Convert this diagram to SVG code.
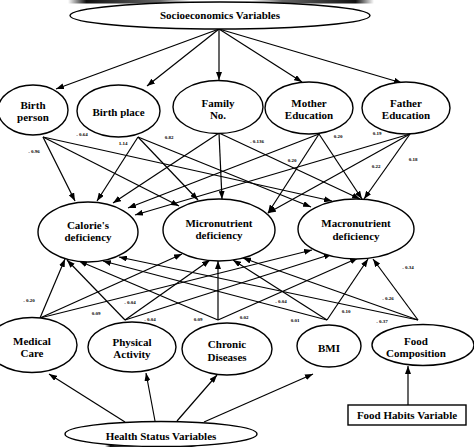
<svg xmlns="http://www.w3.org/2000/svg" width="474" height="447" viewBox="0 0 474 447">
<defs>
<marker id="ah" markerUnits="userSpaceOnUse" markerWidth="8" markerHeight="6" refX="8" refY="3" orient="auto">
<path d="M0,0 L8,3 L0,6 z" fill="#000"/>
</marker>
<linearGradient id="sh" x1="0" y1="0" x2="1" y2="0">
<stop offset="0" stop-color="#fff"/>
<stop offset="0.06" stop-color="#111"/>
<stop offset="0.3" stop-color="#666"/>
<stop offset="0.4" stop-color="#fff"/>
<stop offset="0.6" stop-color="#fff"/>
<stop offset="0.7" stop-color="#666"/>
<stop offset="0.94" stop-color="#111"/>
<stop offset="1" stop-color="#fff"/>
</linearGradient>
<style>
.n{fill:#fff;stroke:#000;stroke-width:1.4}
.t{font-family:"Liberation Serif",serif;font-weight:bold;font-size:11px;text-anchor:middle;fill:#000}
.e line{stroke:#000;stroke-width:1.2;marker-end:url(#ah)}
.l{font-family:"Liberation Serif",serif;font-weight:bold;font-size:5px;text-anchor:middle;fill:#000}
</style>
</defs>
<rect x="68" y="0" width="306" height="3.5" fill="url(#sh)"/>
<rect x="105" y="443" width="92" height="4" fill="url(#sh)"/>
<g id="connectors" class="e">
<line x1="219" y1="29" x2="56" y2="89"/>
<line x1="219" y1="29" x2="147" y2="86"/>
<line x1="219" y1="29" x2="219" y2="80"/>
<line x1="219" y1="29" x2="302" y2="82"/>
<line x1="219" y1="29" x2="402" y2="83"/>
<line x1="43" y1="137" x2="75" y2="201"/>
<line x1="43" y1="137" x2="179" y2="206"/>
<line x1="43" y1="137" x2="332" y2="201"/>
<line x1="138" y1="137" x2="97" y2="201"/>
<line x1="138" y1="137" x2="198" y2="200"/>
<line x1="138" y1="137" x2="311" y2="207"/>
<line x1="219" y1="133" x2="113" y2="203"/>
<line x1="219" y1="133" x2="222" y2="199"/>
<line x1="219" y1="133" x2="360" y2="199"/>
<line x1="319" y1="134" x2="128" y2="208"/>
<line x1="319" y1="134" x2="268" y2="213"/>
<line x1="319" y1="134" x2="362" y2="199"/>
<line x1="410" y1="134" x2="135" y2="215"/>
<line x1="410" y1="134" x2="268" y2="213"/>
<line x1="410" y1="134" x2="364" y2="199"/>
<line x1="40" y1="318" x2="65" y2="259"/>
<line x1="40" y1="318" x2="182" y2="254"/>
<line x1="40" y1="318" x2="312" y2="250"/>
<line x1="125" y1="320" x2="67" y2="260"/>
<line x1="125" y1="320" x2="210" y2="260"/>
<line x1="125" y1="320" x2="332" y2="254"/>
<line x1="218" y1="320" x2="79" y2="261"/>
<line x1="218" y1="320" x2="218" y2="261"/>
<line x1="218" y1="320" x2="358" y2="258"/>
<line x1="327" y1="320" x2="103" y2="261"/>
<line x1="327" y1="320" x2="233" y2="260"/>
<line x1="327" y1="320" x2="368" y2="259"/>
<line x1="418" y1="320" x2="119" y2="257"/>
<line x1="418" y1="320" x2="243" y2="258"/>
<line x1="418" y1="320" x2="373" y2="259"/>
<line x1="125" y1="422" x2="49" y2="374"/>
<line x1="155" y1="421" x2="146" y2="373"/>
<line x1="177" y1="421" x2="217" y2="375"/>
<line x1="204" y1="422" x2="313" y2="374"/>
<line x1="408" y1="405" x2="408" y2="366"/>
</g>
<g id="edge-labels">
<text class="l" x="34" y="153">- 0.96</text>
<text class="l" x="82" y="136">- 0.64</text>
<text class="l" x="123" y="145">1.14</text>
<text class="l" x="169" y="139">0.82</text>
<text class="l" x="257" y="143">- 0.136</text>
<text class="l" x="338" y="138">0.20</text>
<text class="l" x="292" y="162">0.20</text>
<text class="l" x="377" y="135">0.19</text>
<text class="l" x="376" y="168">0.22</text>
<text class="l" x="413" y="161">0.18</text>
<text class="l" x="29" y="302">- 0.20</text>
<text class="l" x="96" y="315">0.09</text>
<text class="l" x="130" y="304">- 0.04</text>
<text class="l" x="150" y="321">- 0.04</text>
<text class="l" x="198" y="321">0.09</text>
<text class="l" x="244" y="319">0.02</text>
<text class="l" x="281" y="303">- 0.04</text>
<text class="l" x="295" y="322">0.01</text>
<text class="l" x="346" y="313">0.10</text>
<text class="l" x="382" y="323">- 0.37</text>
<text class="l" x="388" y="300">- 0.26</text>
<text class="l" x="408" y="269">- 0.34</text>
</g>
<g id="socio"><ellipse class="n" cx="220" cy="15.5" rx="150" ry="13.5"/><text class="t" x="220" y="19">Socioeconomics Variables</text></g>
<g id="birth-person"><ellipse class="n" cx="33" cy="110" rx="35" ry="25"/><text class="t" x="33" y="108.5">Birth</text><text class="t" x="33" y="120.5">person</text></g>
<g id="birth-place"><ellipse class="n" cx="118.5" cy="111" rx="41.5" ry="26"/><text class="t" x="118.5" y="116">Birth place</text></g>
<g id="family-no"><ellipse class="n" cx="218" cy="107" rx="45" ry="26.5"/><text class="t" x="218" y="107">Family</text><text class="t" x="218" y="119">No.</text></g>
<g id="mother-education"><ellipse class="n" cx="309" cy="108" rx="44" ry="26"/><text class="t" x="309" y="107">Mother</text><text class="t" x="309" y="118.5">Education</text></g>
<g id="father-education"><ellipse class="n" cx="406" cy="108" rx="44" ry="26"/><text class="t" x="406" y="107">Father</text><text class="t" x="406" y="118.5">Education</text></g>
<g id="calorie"><ellipse class="n" cx="88" cy="232" rx="50" ry="30"/><text class="t" x="88" y="229">Calorie's</text><text class="t" x="88" y="241">deficiency</text></g>
<g id="micronutrient"><ellipse class="n" cx="219" cy="230" rx="56" ry="31"/><text class="t" x="219" y="227">Micronutrient</text><text class="t" x="219" y="239">deficiency</text></g>
<g id="macronutrient"><ellipse class="n" cx="356" cy="229" rx="58" ry="30"/><text class="t" x="356" y="227">Macronutrient</text><text class="t" x="356" y="240">deficiency</text></g>
<g id="medical-care"><ellipse class="n" cx="32" cy="345" rx="45" ry="27.5"/><text class="t" x="32" y="345">Medical</text><text class="t" x="32" y="357">Care</text></g>
<g id="physical-activity"><ellipse class="n" cx="132" cy="347" rx="44" ry="25"/><text class="t" x="132" y="346">Physical</text><text class="t" x="132" y="357.5">Activity</text></g>
<g id="chronic-diseases"><ellipse class="n" cx="227" cy="349" rx="45" ry="26"/><text class="t" x="227" y="348">Chronic</text><text class="t" x="227" y="361">Diseases</text></g>
<g id="bmi"><ellipse class="n" cx="329" cy="346" rx="32" ry="21"/><text class="t" x="329" y="352">BMI</text></g>
<g id="food-composition"><ellipse class="n" cx="423" cy="345" rx="51" ry="20.5"/><text class="t" x="416" y="345">Food</text><text class="t" x="416" y="357">Composition</text></g>
<g id="health-status"><ellipse class="n" cx="161" cy="434" rx="96" ry="12.5"/><text class="t" x="161" y="440">Health Status Variables</text></g>
<g id="food-habits"><rect class="n" x="348" y="405" width="118" height="20"/><text class="t" x="407" y="419">Food Habits Variable</text></g>
</svg>
